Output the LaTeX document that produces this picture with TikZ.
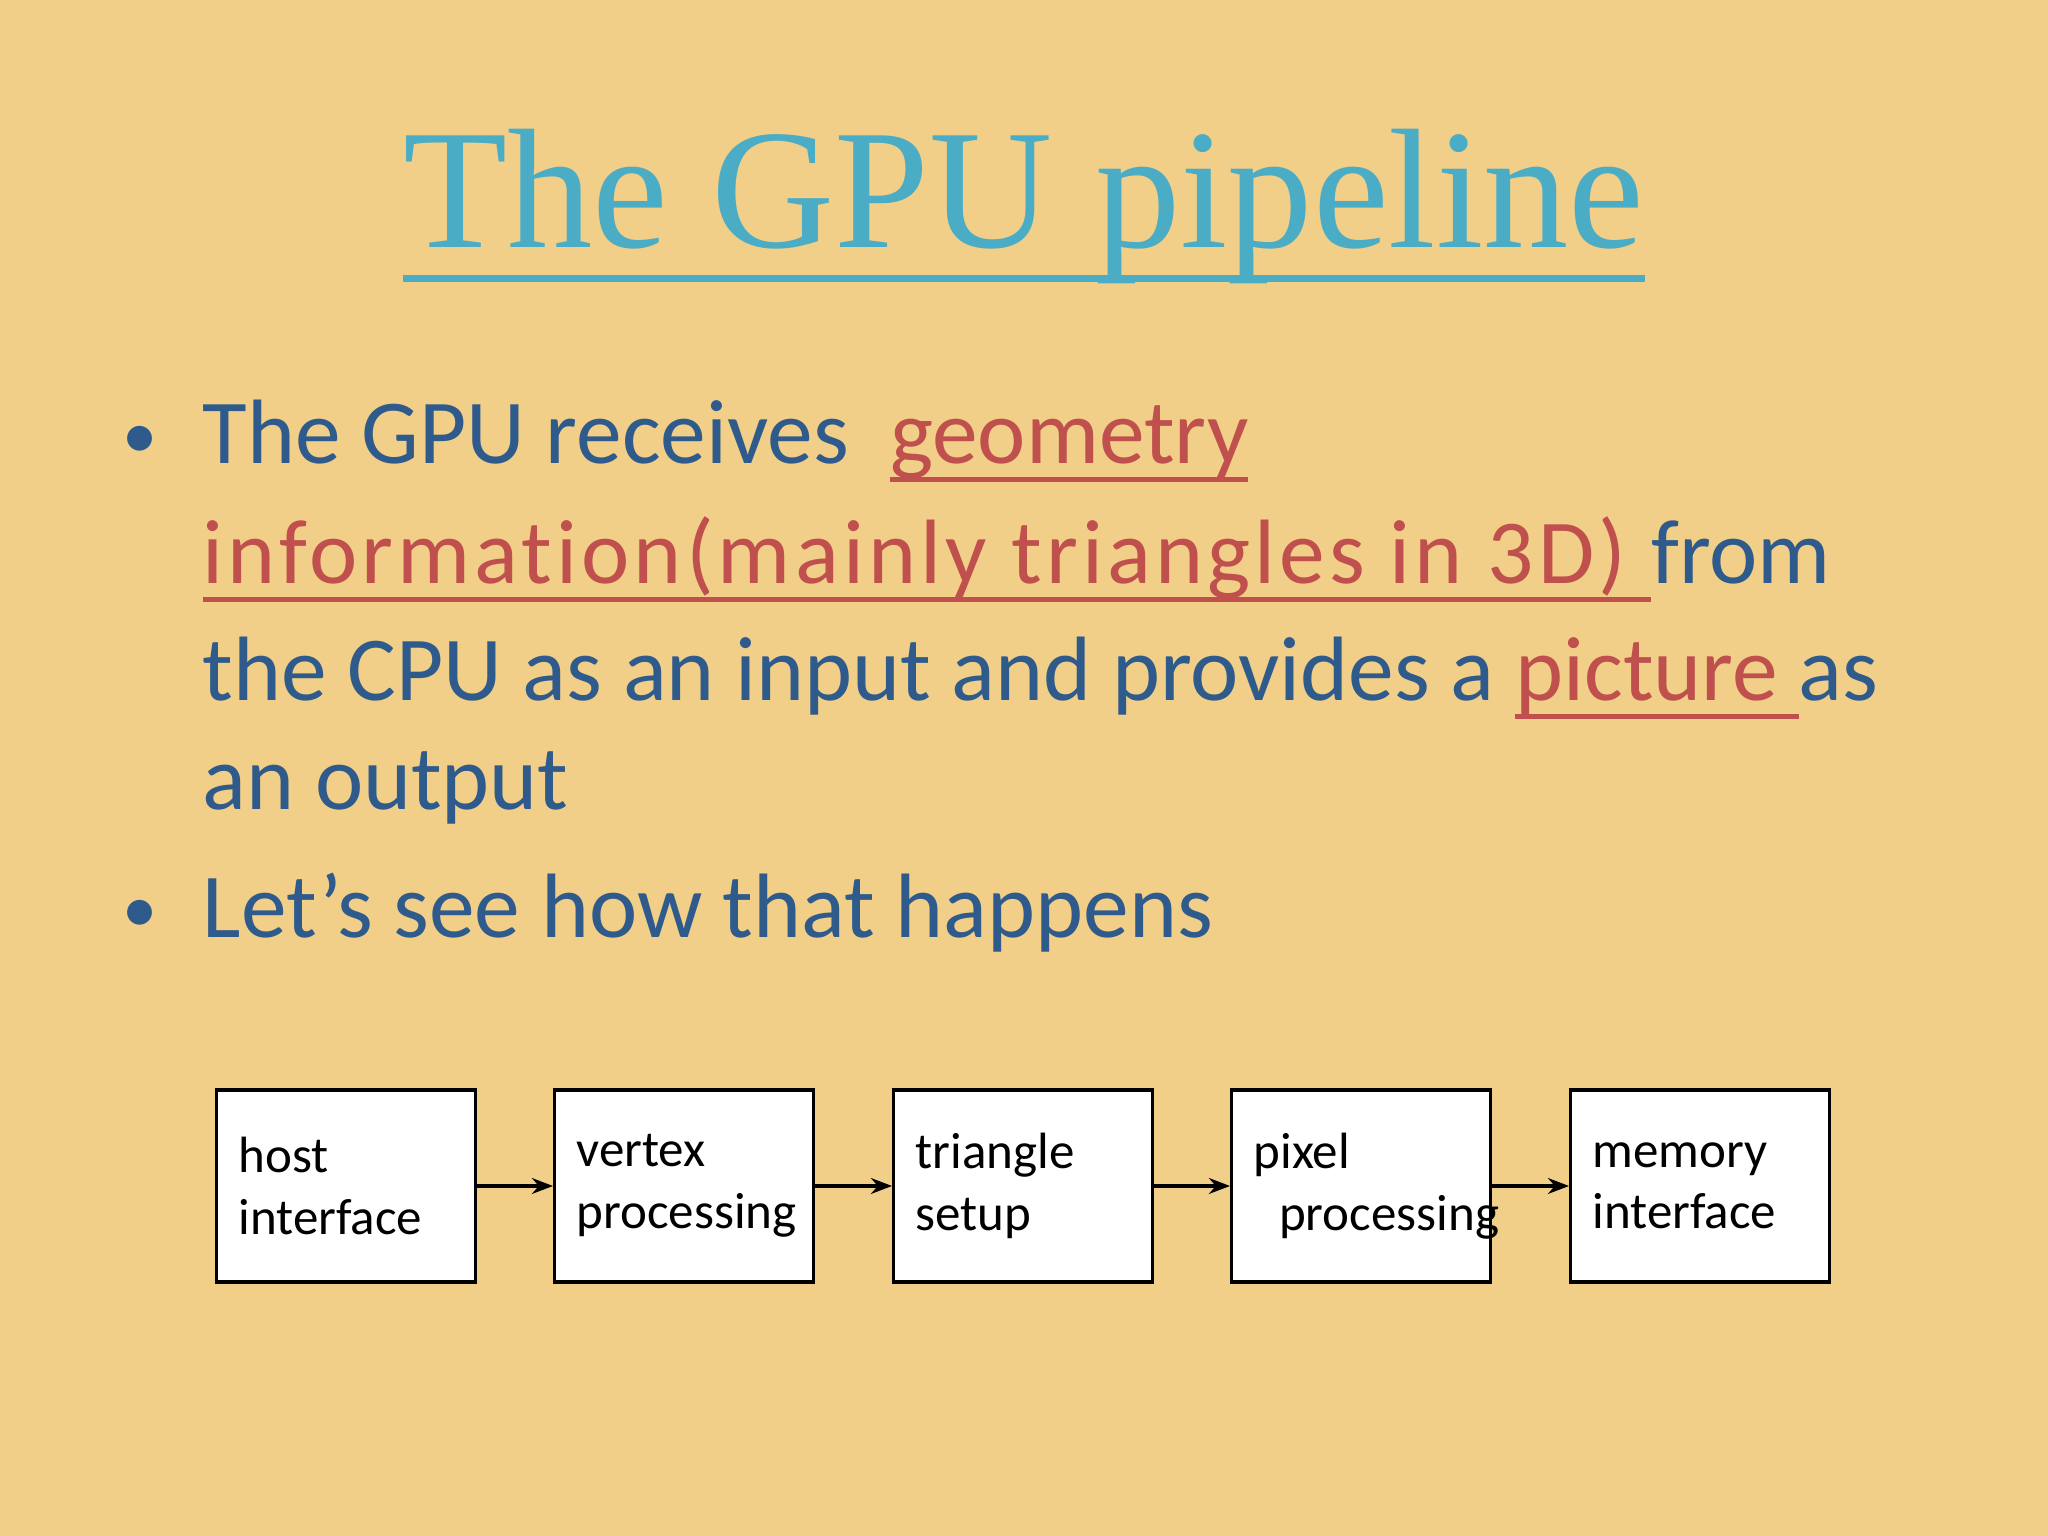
\documentclass[tikz,border=0pt]{standalone}
\usepackage{fontspec}
\setmainfont[Ligatures=NoCommon]{Carlito}
\newfontfamily\titlefont{Liberation Serif}
\usetikzlibrary{arrows.meta}
\definecolor{bg}{HTML}{F1CF88}
\definecolor{ttl}{HTML}{4BACC6}
\definecolor{txt}{HTML}{2F5A8C}
\definecolor{redt}{HTML}{C0504D}
\newcommand\myul[3]{\setbox0\hbox{#3}\rlap{\rule[-#1]{\wd0}{#2}}\box0}
\begin{document}
\begin{tikzpicture}[x=0.01cm,y=0.01cm,
  line/.style={anchor=base west,inner sep=0,text=txt,font=\fontsize{26}{30}\selectfont},
  bul/.style={anchor=base,inner sep=0,text=txt,font=\fontsize{20}{24}\selectfont},
  box/.style={draw=black,fill=white,line width=0.9pt,minimum width=2.586cm,minimum height=1.92cm,text width=2.146cm,inner xsep=0.22cm,align=left,font=\fontsize{14.5}{17.5}\selectfont},
  arr/.style={-{Stealth[length=6pt,width=4.5pt]},line width=0.9pt}]
\fill[bg] (0,0) rectangle (2048,1536);
\useasboundingbox (0,0) rectangle (2048,1536);
\node[anchor=base,inner sep=0,text=ttl] (title) at (1024,1288) {\titlefont\fontsize{48.5}{52}\selectfont\myul{0.2em}{2pt}{The GPU pipeline}};
\node[bul] (b1) at (140,1077) {\textbullet};
\node[line] (l1) at (202,1072) {The GPU receives \ {\color{redt}\myul{0.2em}{1.6pt}{geometry}}};
\node[line] (l2) at (202,952) {{\color{redt}\myul{0.2em}{1.6pt}{\addfontfeature{LetterSpace=4.5}information(mainly triangles in 3D)\ }}from};
\node[line] (l3) at (202,835) {the CPU as an input and provides a {\color{redt}\myul{0.2em}{1.6pt}{picture\ }}as};
\node[line] (l4) at (202,726) {an output};
\node[bul] (b2) at (140,603) {\textbullet};
\node[line] (l5) at (202,598) {Let’s see how that happens};
\node[box] (h) at (346,350) {host\\interface};
\node[box] (v) at (684,350) {vertex\\processing};
\node[box] (t) at (1023,350) {triangle\\setup};
\node[box] (p) at (1361,350) {pixel\\\hbox{\hspace{0.5em}processing}};
\node[box] (m) at (1700,350) {memory\\interface};
\draw[arr] (h) -- (v);
\draw[arr] (v) -- (t);
\draw[arr] (t) -- (p);
\draw[arr] (p) -- (m);
\end{tikzpicture}
\end{document}
